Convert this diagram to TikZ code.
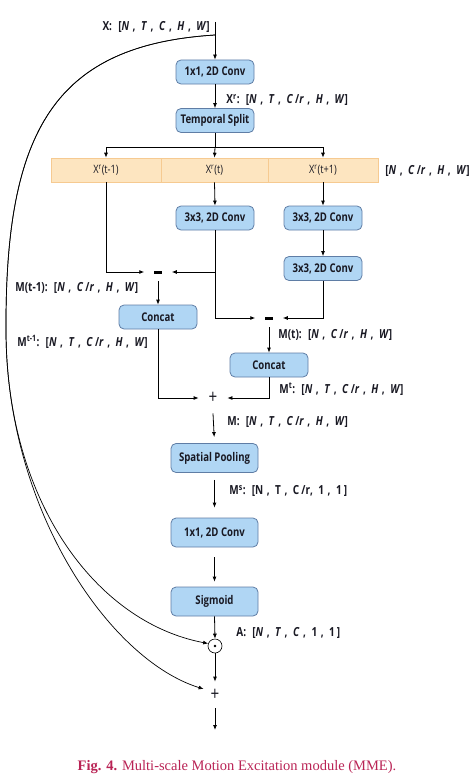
\documentclass[tikz,border=0pt]{standalone}
\usepackage{fontspec}
\setmainfont[FakeStretch=0.8]{Open Sans}
\newfontfamily\capfont{Liberation Serif}
\usetikzlibrary{arrows.meta}
\definecolor{boxfill}{RGB}{176,214,244}
\definecolor{boxline}{RGB}{95,125,165}
\definecolor{barfill}{RGB}{253,229,192}
\definecolor{barline}{RGB}{246,202,145}
\definecolor{txt}{RGB}{25,25,35}
\definecolor{capred}{RGB}{185,35,85}
\newcommand{\myit}[1]{\textit{#1}}
\newcommand{\cs}{\hspace{3.5pt},\hspace{5.5pt}}
\begin{document}
\begin{tikzpicture}[x=1pt,y=-1pt,
  >={Latex[length=5pt,width=4pt]}, line width=0.8pt,
  blk/.style={draw=boxline, fill=boxfill, rounded corners=5pt, line width=0.8pt,
    font=\bfseries\fontsize{12}{13}\selectfont, text=txt, inner sep=0pt,
    minimum width=78pt, minimum height=24pt},
  bigblk/.style={blk, minimum width=87pt, minimum height=29pt},
  cell/.style={draw=barline, fill=barfill, line width=0.6pt, minimum height=24pt,
    inner sep=0pt, font=\fontsize{11.5}{12}\selectfont, text=txt},
  lab/.style={font=\bfseries\fontsize{12.5}{13}\selectfont, inner sep=0pt, text=txt},
  minus/.style={fill=black, minimum width=8.5pt, minimum height=3pt, inner sep=0pt,
    outer xsep=9.5pt, outer ysep=7.5pt},
  plusn/.style={inner sep=0pt, font=\fontsize{19}{19}\selectfont, text=txt},
  capt/.style={font=\capfont\fontsize{14.5}{16}\selectfont, text=capred, inner sep=0pt}]
\useasboundingbox (0,0) rectangle (474,776);

% main column nodes
\node[blk] (c1) at (215,72) {1x1, 2D Conv};
\node[blk] (ts) at (215,120.5) {Temporal Split};
\node[cell, minimum width=110pt] (b1) at (106,170) {X\textsuperscript{r}(t-1)};
\node[cell, minimum width=107pt] (b2) at (214.5,170) {X\textsuperscript{r}(t)};
\node[cell, minimum width=110pt] (b3) at (323,170) {X\textsuperscript{r}(t+1)};
\node[blk] (ca) at (215,218) {3x3, 2D Conv};
\node[blk] (cb) at (323,218) {3x3, 2D Conv};
\node[blk] (cc) at (323,268.5) {3x3, 2D Conv};
\node[minus] (m1) at (158,272) {};
\node[minus] (m2) at (269,318) {};
\node[blk] (k1) at (158,317) {Concat};
\node[blk] (k2) at (269,365) {Concat};
\node[plusn, minimum width=28pt, minimum height=30pt] (p1) at (213,398) {+};
\node[bigblk] (sp) at (214.5,458) {Spatial Pooling};
\node[bigblk] (c2) at (214.5,532.5) {1x1, 2D Conv};
\node[bigblk] (sg) at (214.5,601.5) {Sigmoid};
\node[circle, draw, line width=0.6pt, minimum size=14pt, inner sep=0pt] (od) at (215,646) {};
\fill (od.center) circle (1.3pt);
\node[plusn, minimum width=22pt, minimum height=26pt] (p2) at (215,695) {+};

\coordinate (top) at (215,22);
\coordinate (xs) at (215,35);
\coordinate (spl) at (215,147);
\coordinate (out) at (215,730);

% labels
\node[lab, anchor=east] (lx) at (210,27) {X:\enspace[\myit{N}\cs\myit{T}\cs\myit{C}\cs\myit{H}\cs\myit{W}]};
\node[lab, anchor=west] (lxr) at (226,100) {X\textsuperscript{r}:\enspace[\myit{N}\cs\myit{T}\cs\myit{C}\,/\myit{r}\cs\myit{H}\cs\myit{W}]};
\node[lab, anchor=west] (lbar) at (385,171) {[\myit{N}\cs\myit{C}\,/\myit{r}\cs\myit{H}\cs\myit{W}]};
\node[lab, anchor=west] (lm1) at (15,288) {M(t-1):\enspace[\myit{N}\cs\myit{C}\,/\myit{r}\cs\myit{H}\cs\myit{W}]};
\node[lab, anchor=west] (lmt1) at (17,342) {M\textsuperscript{t-1}:\enspace[\myit{N}\cs\myit{T}\cs\myit{C}\,/\myit{r}\cs\myit{H}\cs\myit{W}]};
\node[lab, anchor=west] (lm2) at (278,335) {M(t):\enspace[\myit{N}\cs\myit{C}\,/\myit{r}\cs\myit{H}\cs\myit{W}]};
\node[lab, anchor=west] (lmt) at (279,389) {M\textsuperscript{t}:\enspace[\myit{N}\cs\myit{T}\cs\myit{C}\,/\myit{r}\cs\myit{H}\cs\myit{W}]};
\node[lab, anchor=west] (lm) at (227,422) {M:\enspace[\myit{N}\cs\myit{T}\cs\myit{C}\,/\myit{r}\cs\myit{H}\cs\myit{W}]};
\node[lab, anchor=west] (lms) at (229,491) {M\textsuperscript{s}:\enspace[N\cs T\cs C\,/r,\hspace{5.5pt}1\cs 1\,]};
\node[lab, anchor=west] (la) at (236,633) {A:\enspace[\myit{N}\cs\myit{T}\cs\myit{C}\cs 1\cs 1\,]};
\node[capt] (cap) at (237,767) {\textbf{Fig. 4.} Multi-scale Motion Excitation module (MME).};

% connectors
\draw[->] (top) -- (c1.north);
\draw[->] (c1.south) -- (ts.north);
\draw (ts.south) -- (spl);
\draw[->] (spl) -| (b1.north);
\draw[->] (spl) -| (b3.north);
\draw[->] (spl) -- (b2.north);
\draw[->] (b1.south) |- (m1.west);
\draw[->] (b2.south) -- (ca.north);
\draw[->] (b3.south) -- (cb.north);
\draw[->] (cb.south) -- (cc.north);
\draw[->] (ca.south) |- (m1.east);
\draw[->] (ca.south) |- (m2.west);
\draw[->] (cc.south) |- (m2.east);
\draw[->] (m1.south) -- (k1.north);
\draw[->] (m2.south) -- (k2.north);
\draw[->] (k1.south) |- (p1.west);
\draw[->] (k2.south) |- (p1.east);
\draw[->, shorten >=6pt] (p1.south) -- (sp.north);
\draw[->, shorten <=7pt, shorten >=10pt] (sp.south) -- (c2.north);
\draw[->, shorten <=10pt, shorten >=5pt] (c2.south) -- (sg.north);
\draw[->] (sg.south) -- (od.north);
\draw[->] (od.south) -- (p2.north);
\draw[->] (p2.south) -- (out);

% skip curves
\draw[->, line width=0.7pt] (xs) .. controls (55,45) and (5,130) .. (6,330)
   .. controls (6,500) and (95,622) .. (od.160);
\draw[->, line width=0.7pt] (xs) .. controls (55,45) and (5,130) .. (6,330)
   .. controls (6,510) and (110,660) .. ([yshift=6pt]p2.west);
\end{tikzpicture}
\end{document}
